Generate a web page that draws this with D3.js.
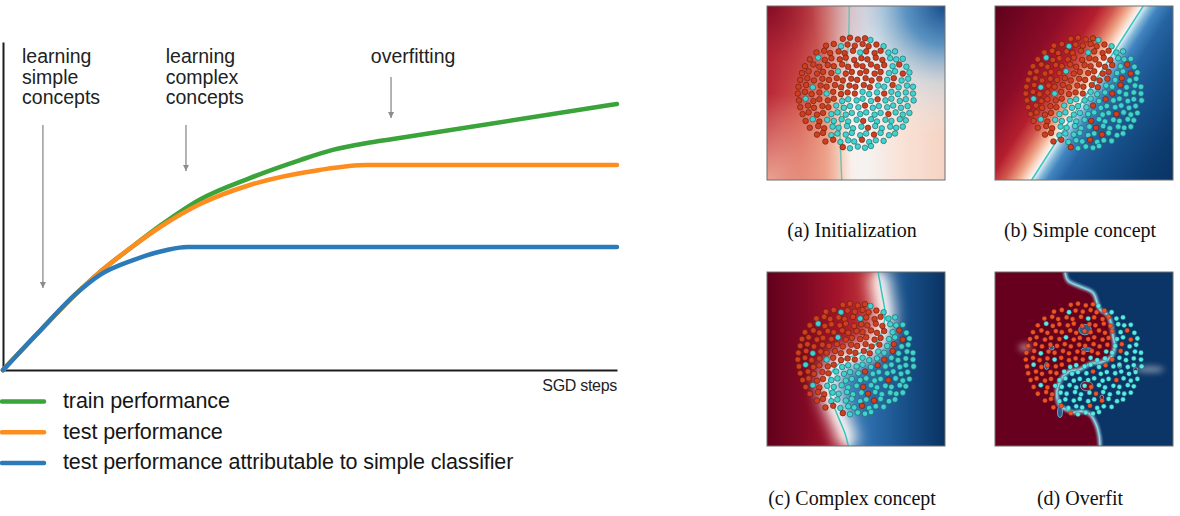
<!DOCTYPE html>
<html>
<head>
<meta charset="utf-8">
<script src="https://cdnjs.cloudflare.com/ajax/libs/d3/7.8.5/d3.min.js"></script>
<style>
  body { margin: 0; background: #fff; }
  svg { display: block; }
</style>
</head>
<body>
<svg id="chart" width="1180" height="516"></svg>
<script>
// ---- left chart data (SGD steps 0..100, performance 0..100) ----
var trainSteps  = [0, 6.0, 12.05, 15.8, 21.2, 25.6, 32.1, 40.2, 48.4, 53.7, 59.3, 63.0, 100];
var trainPerf   = [0, 11.9, 23.5, 29.9, 37.8, 44.0, 52.0, 58.5, 64.0, 67.1, 69.2, 70.3, 81.1];
var testSteps   = [0, 6.0, 12.05, 15.8, 21.2, 25.6, 32.1, 40.2, 51.6, 59.3, 65, 100];
var testPerf    = [0, 11.9, 23.5, 29.9, 37.8, 43.6, 50.6, 56.4, 61.0, 62.5, 62.5, 62.5];
var simpleSteps = [0, 6.0, 12.05, 15.8, 21.2, 26.7, 30.0, 35.3, 100];
var simplePerf  = [0, 11.9, 23.5, 29.0, 33.5, 36.6, 37.5, 37.5, 37.5];

var legendLabels = ["train performance", "test performance", "test performance attributable to simple classifier"];
var seriesColors = ["#3aa339", "#fd8d1e", "#2b7bba"];

var annLabels = [["learning", "simple", "concepts"], ["learning", "complex", "concepts"], ["overfitting"]];
var annTextX  = [3.1, 26.5, 59.9];
var arrowX    = [6.5, 29.8, 63.2];
var arrowTop  = [74.7, 74.7, 89.3];
var arrowTip  = [25.0, 60.7, 76.8];

// ---- right panels data ----
var captions = ["(a) Initialization", "(b) Simple concept", "(c) Complex concept", "(d) Overfit"];

// decision boundaries in panel units (0..1, y down)
var boundaryA = [[0.462,0],[0.457,0.216],[0.438,0.409],[0.42,0.543],[0.41,0.736],[0.414,0.851],[0.42,1]];
var boundaryB = [[0.206,1],[0.833,0]];
var boundaryC = [[0.624,0],[0.645,0.122],[0.663,0.237],[0.653,0.314],[0.616,0.41],[0.522,0.467],[0.429,0.506],
                 [0.372,0.563],[0.344,0.64],[0.363,0.736],[0.4,0.832],[0.438,0.927],[0.457,1]];
var boundaryD = [[0.393,0],[0.41,0.05],[0.478,0.084],[0.551,0.12],[0.575,0.18],[0.59,0.217],[0.62,0.235],[0.646,0.274],
                 [0.663,0.37],[0.672,0.42],[0.656,0.484],[0.63,0.505],[0.59,0.52],[0.54,0.525],[0.478,0.56],[0.42,0.57],
                 [0.384,0.598],[0.36,0.64],[0.347,0.693],[0.365,0.77],[0.40,0.79],[0.44,0.807],[0.49,0.80],[0.534,0.817],
                 [0.571,0.884],[0.585,0.94],[0.59,1]];
// small pockets in the overfit panel: x, y, rx, ry, class (0 blue pocket, 1 red pocket)
var islandsD = [[0.506,0.331,0.035,0.03,0],[0.318,0.436,0.014,0.012,0],[0.515,0.446,0.03,0.011,0],
                [0.29,0.54,0.012,0.02,0],[0.365,0.806,0.014,0.03,0],[0.515,0.655,0.035,0.028,1],
                [0.70,0.54,0.012,0.012,1],[0.79,0.56,0.012,0.01,1],[0.60,0.72,0.01,0.012,1]];
var glowsD = [[0.169,0.434,0.035,0.02],[0.87,0.56,0.08,0.015]];

// data points (x, y in unit disk, y up; label 0 = red, 1 = cyan)
var dataPoints = [
[-0.22,0.95,0],[-0.10,0.97,0],[0.03,0.94,0],[0.15,0.96,0],[0.24,0.93,1],
[-0.50,0.83,0],[-0.37,0.86,0],[-0.25,0.82,1],[-0.14,0.85,0],[-0.02,0.83,0],[0.11,0.86,0],[0.21,0.82,0],[0.34,0.85,0],[0.46,0.82,1],
[-0.66,0.71,0],[-0.53,0.74,0],[-0.43,0.70,0],[-0.29,0.73,0],[-0.19,0.70,0],[-0.05,0.74,0],[0.07,0.71,1],[0.17,0.73,0],[0.31,0.70,0],[0.41,0.74,0],[0.54,0.71,1],[0.65,0.73,1],
[-0.77,0.59,0],[-0.63,0.62,1],[-0.52,0.58,0],[-0.41,0.61,0],[-0.27,0.59,0],[-0.17,0.62,0],[-0.03,0.58,0],[0.09,0.61,0],[0.19,0.59,0],[0.33,0.62,0],[0.44,0.58,0],[0.57,0.61,1],[0.67,0.59,1],[0.78,0.60,1],
[-0.85,0.47,0],[-0.71,0.50,0],[-0.61,0.46,0],[-0.47,0.49,0],[-0.37,0.47,0],[-0.23,0.50,0],[-0.13,0.46,0],[0.01,0.49,0],[0.11,0.47,0],[0.25,0.50,0],[0.35,0.46,0],[0.47,0.49,0],[0.61,0.47,1],[0.72,0.50,0],[0.84,0.46,1],
[-0.90,0.35,0],[-0.79,0.38,0],[-0.65,0.34,0],[-0.55,0.37,0],[-0.41,0.35,0],[-0.30,0.38,1],[-0.17,0.34,0],[-0.07,0.37,0],[0.07,0.35,0],[0.17,0.38,0],[0.31,0.34,0],[0.41,0.37,0],[0.55,0.35,1],[0.65,0.38,1],[0.78,0.34,0],[0.89,0.36,1],
[-0.93,0.23,0],[-0.81,0.26,0],[-0.70,0.22,0],[-0.56,0.25,0],[-0.45,0.23,0],[-0.32,0.26,0],[-0.22,0.22,0],[-0.08,0.25,0],[0.02,0.23,0],[0.16,0.26,0],[0.26,0.22,0],[0.39,0.25,0],[0.52,0.23,1],[0.63,0.26,0],[0.76,0.22,1],[0.87,0.25,1],
[-0.96,0.11,0],[-0.83,0.14,0],[-0.72,0.10,1],[-0.59,0.13,0],[-0.49,0.11,0],[-0.35,0.14,0],[-0.25,0.10,0],[-0.11,0.13,0],[-0.01,0.11,0],[0.13,0.14,0],[0.23,0.10,0],[0.37,0.13,1],[0.47,0.11,1],[0.61,0.14,0],[0.71,0.10,1],[0.85,0.13,1],[0.95,0.11,1],
[-0.97,-0.01,0],[-0.85,0.02,0],[-0.74,-0.02,0],[-0.61,0.01,0],[-0.49,-0.01,1],[-0.38,0.02,0],[-0.25,-0.02,0],[-0.14,0.01,0],[-0.02,-0.01,0],[0.11,0.02,1],[0.22,-0.02,1],[0.35,0.01,1],[0.47,-0.01,0],[0.59,0.02,1],[0.70,-0.02,1],[0.83,0.01,1],[0.95,-0.01,1],
[-0.95,-0.13,0],[-0.84,-0.10,1],[-0.71,-0.14,0],[-0.61,-0.11,0],[-0.47,-0.13,0],[-0.37,-0.10,0],[-0.23,-0.14,1],[-0.13,-0.11,1],[0.01,-0.13,1],[0.11,-0.10,1],[0.25,-0.14,1],[0.36,-0.11,0],[0.49,-0.13,1],[0.59,-0.10,1],[0.73,-0.14,1],[0.83,-0.11,1],[0.96,-0.13,1],
[-0.93,-0.25,0],[-0.80,-0.22,0],[-0.70,-0.26,0],[-0.56,-0.23,0],[-0.46,-0.25,0],[-0.33,-0.22,1],[-0.20,-0.26,1],[-0.10,-0.23,1],[0.04,-0.25,1],[0.15,-0.22,0],[0.28,-0.26,1],[0.38,-0.23,1],[0.52,-0.25,1],[0.62,-0.22,1],[0.75,-0.26,1],[0.86,-0.23,1],
[-0.89,-0.37,0],[-0.79,-0.34,0],[-0.65,-0.38,0],[-0.55,-0.35,0],[-0.41,-0.37,1],[-0.31,-0.34,1],[-0.17,-0.38,1],[-0.07,-0.35,1],[0.07,-0.37,1],[0.17,-0.34,1],[0.31,-0.38,1],[0.41,-0.35,1],[0.54,-0.37,0],[0.66,-0.34,1],[0.78,-0.38,1],[0.89,-0.35,1],
[-0.84,-0.49,0],[-0.72,-0.46,1],[-0.61,-0.50,0],[-0.48,-0.47,1],[-0.37,-0.49,1],[-0.24,-0.46,1],[-0.13,-0.50,1],[0.01,-0.47,1],[0.12,-0.49,0],[0.25,-0.46,1],[0.35,-0.50,1],[0.49,-0.47,1],[0.59,-0.49,1],[0.73,-0.46,1],[0.83,-0.48,1],
[-0.77,-0.61,0],[-0.63,-0.58,0],[-0.53,-0.62,0],[-0.39,-0.59,1],[-0.29,-0.61,1],[-0.15,-0.58,1],[-0.05,-0.62,1],[0.09,-0.59,1],[0.20,-0.61,0],[0.32,-0.58,1],[0.43,-0.62,1],[0.57,-0.59,1],[0.67,-0.61,1],[0.78,-0.59,1],
[-0.65,-0.73,0],[-0.55,-0.70,0],[-0.41,-0.74,1],[-0.31,-0.71,1],[-0.17,-0.73,1],[-0.07,-0.70,1],[0.07,-0.74,1],[0.17,-0.71,1],[0.30,-0.73,0],[0.41,-0.70,1],[0.55,-0.74,1],[0.65,-0.71,1],
[-0.51,-0.85,0],[-0.38,-0.82,0],[-0.26,-0.86,1],[-0.13,-0.83,1],[-0.03,-0.85,1],[0.10,-0.82,0],[0.22,-0.86,1],[0.33,-0.83,1],[0.46,-0.84,1],
[-0.22,-0.95,0],[-0.10,-0.97,1],[0.03,-0.94,1],[0.15,-0.96,1],[0.25,-0.93,1]
];

var svg = d3.select("#chart");
var defs = svg.append("defs");

function linGrad(id, stops, x1, y1, x2, y2, userSpace) {
  var g = defs.append("linearGradient").attr("id", id)
    .attr("x1", x1).attr("y1", y1).attr("x2", x2).attr("y2", y2);
  if (userSpace) g.attr("gradientUnits", "userSpaceOnUse");
  stops.forEach(function(s) {
    g.append("stop").attr("offset", s[0]).attr("stop-color", s[1])
      .attr("stop-opacity", s[2] == null ? 1 : s[2]);
  });
}
function radGrad(id, stops, cx, cy, r) {
  var g = defs.append("radialGradient").attr("id", id)
    .attr("cx", cx).attr("cy", cy).attr("r", r);
  stops.forEach(function(s) {
    g.append("stop").attr("offset", s[0]).attr("stop-color", s[1])
      .attr("stop-opacity", s[2] == null ? 1 : s[2]);
  });
}
function blur(id, sd) {
  defs.append("filter").attr("id", id)
    .attr("filterUnits", "userSpaceOnUse")
    .attr("x", -100).attr("y", -100).attr("width", 400).attr("height", 400)
    .append("feGaussianBlur").attr("stdDeviation", sd);
}
blur("blur7", 7);
blur("blur3", 3);
blur("blur1", 1.2);
blur("blur05", 0.6);

defs.append("marker").attr("id", "arrowhead")
  .attr("viewBox", "0 0 10 10").attr("refX", 10).attr("refY", 5)
  .attr("markerWidth", 6).attr("markerHeight", 7)
  .attr("markerUnits", "userSpaceOnUse").attr("orient", "auto")
  .append("path").attr("d", "M0,0L10,5L0,10z").attr("fill", "#8c8c8c");

// ================= left chart =================
var x = d3.scaleLinear().domain([0, 100]).range([3, 617]);
var y = d3.scaleLinear().domain([0, 100]).range([370, 42]);

svg.append("g").attr("transform", "translate(0,370)")
  .call(d3.axisBottom(x).tickValues([]).tickSizeOuter(0));
svg.append("g").attr("transform", "translate(3,0)")
  .call(d3.axisLeft(y).tickValues([]).tickSizeOuter(0));
svg.selectAll(".domain").attr("stroke", "#1c1c1c").attr("stroke-width", 2);

var line = d3.line()
  .x(function(d) { return x(d[0]); })
  .y(function(d) { return y(d[1]); })
  .curve(d3.curveMonotoneX);

var series = [[trainSteps, trainPerf], [testSteps, testPerf], [simpleSteps, simplePerf]];
series.forEach(function(s, i) {
  svg.append("path")
    .datum(d3.zip(s[0], s[1]))
    .attr("d", line)
    .attr("fill", "none")
    .attr("stroke", seriesColors[i])
    .attr("stroke-width", 4.5)
    .attr("stroke-linecap", "round");
});

// annotations
annLabels.forEach(function(lines, i) {
  var t = svg.append("text")
    .attr("x", x(annTextX[i])).attr("y", 63)
    .attr("font-family", "Liberation Sans, Arial, sans-serif")
    .attr("font-size", 19.5).attr("fill", "#222");
  lines.forEach(function(l, j) {
    t.append("tspan").attr("x", x(annTextX[i])).attr("dy", j == 0 ? 0 : 20.5).text(l);
  });
  svg.append("line")
    .attr("x1", x(arrowX[i])).attr("x2", x(arrowX[i]))
    .attr("y1", y(arrowTop[i])).attr("y2", y(arrowTip[i]))
    .attr("stroke", "#8c8c8c").attr("stroke-width", 1.3)
    .attr("marker-end", "url(#arrowhead)");
});

svg.append("text")
  .attr("x", x(100)).attr("y", 391)
  .attr("text-anchor", "end")
  .attr("font-family", "Liberation Sans, Arial, sans-serif")
  .attr("font-size", 16).attr("letter-spacing", -0.3).attr("fill", "#222")
  .text("SGD steps");

// legend
legendLabels.forEach(function(l, i) {
  var ly = 401.5 + i * 30.7;
  svg.append("line")
    .attr("x1", 2).attr("x2", 44).attr("y1", ly).attr("y2", ly)
    .attr("stroke", seriesColors[i]).attr("stroke-width", 4.5)
    .attr("stroke-linecap", "round");
  svg.append("text")
    .attr("x", 63).attr("y", ly + 6.5)
    .attr("font-family", "Liberation Sans, Arial, sans-serif")
    .attr("font-size", 21.5).attr("letter-spacing", -0.1).attr("fill", "#161616")
    .text(l);
});

// ================= right panels =================
var W = 178, H = 174;
var panelX = [767, 995, 767, 995], panelY = [6, 6, 272, 272];
var px = d3.scaleLinear().domain([0, 1]).range([0, W]);
var py = d3.scaleLinear().domain([0, 1]).range([0, H]);
var dx = d3.scaleLinear().domain([-1, 1]).range([W / 2 - 60, W / 2 + 60]);
var dy = d3.scaleLinear().domain([-1, 1]).range([H / 2 + 57, H / 2 - 57]);

var bLine = d3.line()
  .x(function(d) { return px(d[0]); })
  .y(function(d) { return py(d[1]); })
  .curve(d3.curveCatmullRom);

function polygon(boundary, side) {
  var last = boundary[boundary.length - 1], first = boundary[0];
  return bLine(boundary) +
    "L" + px(side) + "," + py(last[1]) + "L" + px(side) + "," + py(first[1]) + "Z";
}

// gradients
linGrad("aBase", [[0,"#bb2a3a"],[0.18,"#d4584f"],[0.33,"#eb9a82"],[0.42,"#f8d6c6"],[0.47,"#f9f0ec"],
                  [0.55,"#f5f3f2"],[0.75,"#f9e2d7"],[1,"#f5d3c3"]], 0, 0, 1, 0);
radGrad("aTL", [[0,"#7e0a24",0.95],[0.5,"#a81c30",0.5],[1,"#b2182b",0]], 0, 0, 0.65);
radGrad("aBL", [[0,"#f3b7a0",0.85],[1,"#f3b7a0",0]], 0, 1, 0.5);
radGrad("aTR", [[0,"#154c8c",1],[0.3,"#3f86bf",0.85],[0.6,"#b5d3e6",0.5],[1,"#e8f0f5",0]], 1, 0, 0.75);

// b: gradient perpendicular to the boundary line
(function() {
  var p0 = [px(boundaryB[0][0]), py(boundaryB[0][1])], p1 = [px(boundaryB[1][0]), py(boundaryB[1][1])];
  var mx = (p0[0] + p1[0]) / 2, my = (p0[1] + p1[1]) / 2;
  var vx = p1[0] - p0[0], vy = p1[1] - p0[1], len = Math.sqrt(vx * vx + vy * vy);
  var nx = -vy / len, ny = vx / len;
  if (nx < 0) { nx = -nx; ny = -ny; }
  linGrad("bGrad", [[0,"#5a001b"],[0.25,"#8c0c28"],[0.36,"#b41e2e"],[0.41,"#d2564d"],[0.45,"#ee9f82"],
                    [0.48,"#fbdccb"],[0.495,"#f6f4f2"],[0.505,"#d4e6f1"],[0.525,"#7fb6d8"],[0.55,"#4285c0"],
                    [0.6,"#2663a2"],[0.7,"#17508a"],[0.85,"#0d3c70"],[1,"#08305e"]],
          mx - 130 * nx, my - 130 * ny, mx + 130 * nx, my + 130 * ny, true);
})();

linGrad("cLeft", [[0,"#62001c"],[0.2,"#7e0824"],[0.4,"#a3142b"],[0.6,"#c43c3f"],[1,"#d6604d"]], 0, 0, W, 0, true);
linGrad("cRight", [[0,"#4b94c8"],[0.35,"#4a8fc4"],[0.6,"#2a6aa8"],[0.8,"#164d85"],[1,"#0a3262"]], 0, 0, W, 0, true);

var boundaries = [boundaryA, boundaryB, boundaryC, boundaryD];
var lineColors = ["#72c2b2", "#3cc4c2", "#36c4c0", "#78e2e6"];

captions.forEach(function(cap, i) {
  var g = svg.append("g").attr("transform", "translate(" + panelX[i] + "," + panelY[i] + ")");
  defs.append("clipPath").attr("id", "clip" + i)
    .append("rect").attr("width", W).attr("height", H);
  var c = g.append("g").attr("clip-path", "url(#clip" + i + ")");

  if (i == 0) {
    ["aBase", "aTL", "aBL", "aTR"].forEach(function(id) {
      c.append("rect").attr("width", W).attr("height", H).attr("fill", "url(#" + id + ")");
    });
  } else if (i == 1) {
    c.append("rect").attr("width", W).attr("height", H).attr("fill", "url(#bGrad)");
  } else if (i == 2) {
    c.append("path").attr("d", polygon(boundaryC, 0)).attr("fill", "url(#cLeft)");
    c.append("path").attr("d", polygon(boundaryC, 1)).attr("fill", "url(#cRight)");
    c.append("path").attr("d", bLine(boundaryC)).attr("fill", "none")
      .attr("stroke", "#fbf3f0").attr("stroke-width", 22).attr("opacity", 0.9)
      .attr("filter", "url(#blur7)");
    c.append("path").attr("d", bLine(boundaryC)).attr("fill", "none")
      .attr("stroke", "#f7f7f7").attr("stroke-width", 6).attr("opacity", 0.8)
      .attr("filter", "url(#blur3)");
  } else {
    c.append("path").attr("d", polygon(boundaryD, 0)).attr("fill", "#67001f");
    c.append("path").attr("d", polygon(boundaryD, 1)).attr("fill", "#0b3567");
    c.append("path").attr("d", bLine(boundaryD)).attr("fill", "none")
      .attr("stroke", "#a6d6ec").attr("stroke-width", 4).attr("opacity", 0.8)
      .attr("filter", "url(#blur1)");
    c.selectAll(".glow").data(glowsD).enter().append("ellipse")
      .attr("cx", function(d) { return px(d[0]); }).attr("cy", function(d) { return py(d[1]); })
      .attr("rx", function(d) { return px(d[2]); }).attr("ry", function(d) { return py(d[3]); })
      .attr("fill", "#f4eee8").attr("opacity", 0.6).attr("filter", "url(#blur3)");
    c.selectAll(".island").data(islandsD).enter().append("ellipse")
      .attr("cx", function(d) { return px(d[0]); }).attr("cy", function(d) { return py(d[1]); })
      .attr("rx", function(d) { return px(d[2]); }).attr("ry", function(d) { return py(d[3]); })
      .attr("fill", function(d) { return d[4] == 0 ? "#2a5f94" : "#7a0a26"; })
      .attr("stroke", "#86c8e0").attr("stroke-width", 0.9).attr("stroke-opacity", 0.8)
      .attr("filter", "url(#blur05)");
  }

  // decision boundary line
  c.append("path").attr("d", bLine(boundaries[i])).attr("fill", "none")
    .attr("stroke", lineColors[i]).attr("stroke-width", i == 3 ? 1.1 : 1.5);

  // data points
  var r = i == 3 ? 2.4 : 2.8;
  c.selectAll(".pt").data(dataPoints).enter().append("circle")
    .attr("cx", function(d) { return dx(d[0]); })
    .attr("cy", function(d) { return dy(d[1]); })
    .attr("r", r)
    .attr("fill", function(d) {
      if (i == 3) return d[2] == 0 ? "#ee5526" : "#55ece6";
      return d[2] == 0 ? "#cf3f1e" : "#3fd2cf";
    })
    .attr("stroke", function(d) { return d[2] == 0 ? "#5e1a0e" : "#1d5858"; })
    .attr("stroke-width", i == 3 ? 0.4 : 0.6);

  g.append("rect").attr("width", W).attr("height", H)
    .attr("fill", "none").attr("stroke", "#6e6e6e").attr("stroke-width", 1);

  svg.append("text")
    .attr("x", panelX[i] + W / 2 - 4)
    .attr("y", i < 2 ? 237 : 505)
    .attr("text-anchor", "middle")
    .attr("font-family", "Liberation Serif, Times New Roman, serif")
    .attr("font-size", 20).attr("fill", "#111")
    .text(cap);
});
</script>
</body>
</html>
